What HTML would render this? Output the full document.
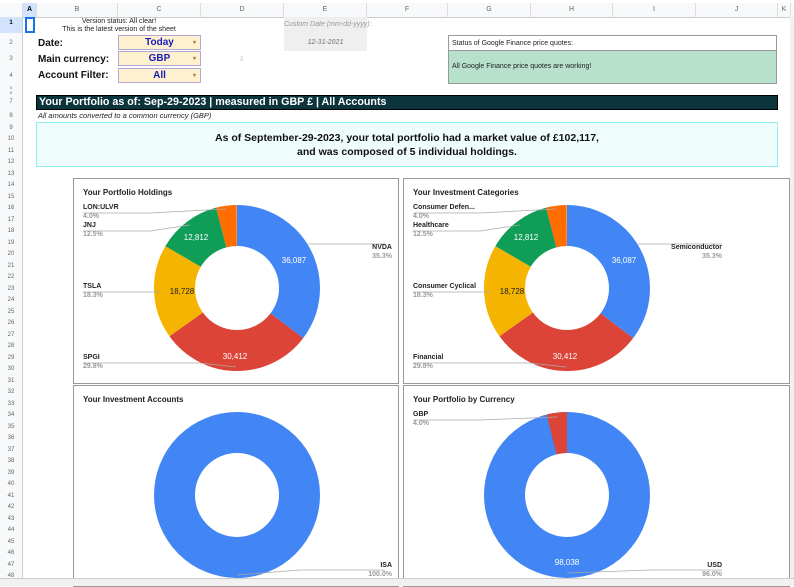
<!DOCTYPE html>
<html><head><meta charset="utf-8"><style>
body{margin:0;width:794px;height:585px;overflow:hidden;background:#fff;font-family:"Liberation Sans",Arial,sans-serif;position:relative}
.a{position:absolute;white-space:nowrap}
.hd{position:absolute;top:3px;height:14px;border-right:1px solid #ddd;font-size:7px;color:#666;text-align:center;line-height:14px;background:#f8f9fa;border-bottom:1px solid #ccc}
.rn{position:absolute;left:0;width:22px;font-size:6px;color:#666;text-align:center}
.dd{position:absolute;left:118px;width:83px;height:15px;background:#fdf1cf;border:1px solid #b4a7d6;box-sizing:border-box;color:#1a1ab8;font-weight:bold;font-size:10px;text-align:center;line-height:14px}
.dd:after{content:"▾";position:absolute;right:4px;font-size:6px;color:#b08040}
.lb{position:absolute;left:38px;font-size:10px;font-weight:bold;color:#111}
.box{position:absolute;border:1px solid #999;background:#fff}
.t{font-size:8px;font-weight:bold;color:#222}
.p{font-size:7px;color:#999}
.v{font-size:8px;fill:#fff;font-family:"Liberation Sans",sans-serif}
</style></head><body>
<div class="a" style="left:0;top:3px;width:794px;height:14px;background:#f8f9fa;border-bottom:1px solid #ccc"></div>
<div class="hd" style="left:0;width:22px"></div>
<div class="hd" style="left:23px;width:13px;background:#d3e3fd;font-weight:bold;color:#000">A</div>
<div class="hd" style="left:37px;width:80px">B</div>
<div class="hd" style="left:118px;width:82px">C</div>
<div class="hd" style="left:201px;width:82px">D</div>
<div class="hd" style="left:284px;width:82px">E</div>
<div class="hd" style="left:367px;width:80px">F</div>
<div class="hd" style="left:448px;width:82px">G</div>
<div class="hd" style="left:531px;width:81px">H</div>
<div class="hd" style="left:613px;width:82px">I</div>
<div class="hd" style="left:696px;width:81px">J</div>
<div class="hd" style="left:778px;width:12px">K</div>
<div class="a" style="left:0;top:17px;width:22px;height:568px;background:#f8f9fa;border-right:1px solid #ccc"></div>
<div class="a" style="left:0;top:17px;width:22px;height:16px;background:#d3e3fd"></div>
<div class="a" style="left:25px;top:17px;width:10px;height:16px;border:2px solid #1a73e8;box-sizing:border-box"></div>
<div class="a" style="left:790px;top:17px;width:4px;height:568px;background:#f1f1f1"></div>
<div class="rn" style="top:20px;font-weight:bold;color:#000">1</div>
<div class="rn" style="top:40px">2</div><div class="rn" style="top:56px">3</div><div class="rn" style="top:73px">4</div>
<div class="rn" style="top:85px;font-size:4px">5</div><div class="rn" style="top:90px;font-size:4px">6</div>
<div class="rn" style="top:99px">7</div><div class="rn" style="top:113px">8</div>
<div class="rn" style="top:125px">9</div><div class="rn" style="top:136px">10</div><div class="rn" style="top:148px">11</div><div class="rn" style="top:159px">12</div><div class="rn" style="top:171px">13</div><div class="rn" style="top:182px">14</div><div class="rn" style="top:194px">15</div><div class="rn" style="top:205px">16</div><div class="rn" style="top:217px">17</div><div class="rn" style="top:228px">18</div><div class="rn" style="top:240px">19</div><div class="rn" style="top:251px">20</div><div class="rn" style="top:263px">21</div><div class="rn" style="top:274px">22</div><div class="rn" style="top:286px">23</div><div class="rn" style="top:297px">24</div><div class="rn" style="top:309px">25</div><div class="rn" style="top:320px">26</div><div class="rn" style="top:332px">27</div><div class="rn" style="top:343px">28</div><div class="rn" style="top:355px">29</div><div class="rn" style="top:366px">30</div><div class="rn" style="top:378px">31</div><div class="rn" style="top:389px">32</div><div class="rn" style="top:401px">33</div><div class="rn" style="top:412px">34</div><div class="rn" style="top:424px">35</div><div class="rn" style="top:435px">36</div><div class="rn" style="top:447px">37</div><div class="rn" style="top:458px">38</div><div class="rn" style="top:470px">39</div><div class="rn" style="top:481px">40</div><div class="rn" style="top:493px">41</div><div class="rn" style="top:504px">42</div><div class="rn" style="top:516px">43</div><div class="rn" style="top:527px">44</div><div class="rn" style="top:539px">45</div><div class="rn" style="top:550px">46</div><div class="rn" style="top:562px">47</div><div class="rn" style="top:573px">48</div>

<div class="a" style="left:37px;top:18px;width:164px;text-align:center;font-size:7px;color:#222;line-height:8px">Version status: All clear!<br>This is the latest version of the sheet</div>
<div class="a" style="left:284px;top:17px;width:83px;height:34px;background:#efefef"></div>
<div class="a" style="left:284px;top:21px;width:83px;text-align:center;font-size:7px;font-style:italic;color:#999">Custom Date (mm-dd-yyyy):</div>
<div class="a" style="left:284px;top:39px;width:83px;text-align:center;font-size:7px;font-style:italic;font-weight:bold;color:#999">12-31-2021</div>
<div class="lb" style="top:38px">Date:</div><div class="lb" style="top:54px">Main currency:</div><div class="lb" style="top:70px">Account Filter:</div>
<div class="dd" style="top:35px">Today</div><div class="dd" style="top:51px">GBP</div><div class="dd" style="top:68px">All</div>
<div class="a" style="left:240px;top:56px;font-size:7px;color:#ccc">£</div>
<div class="a" style="left:448px;top:35px;width:329px;height:16px;border:1px solid #999;box-sizing:border-box;font-size:7px;line-height:15px;padding-left:3px;color:#222">Status of Google Finance price quotes:</div>
<div class="a" style="left:448px;top:51px;width:329px;height:33px;background:#b7e1cd;border:1px solid #999;border-top:none;box-sizing:border-box;font-size:7px;line-height:32px;padding-left:3px;color:#222">All Google Finance price quotes are working!</div>
<div class="a" style="left:36px;top:95px;width:742px;height:15px;background:#0c343d;border:1px solid #000;box-sizing:border-box;color:#fff;font-weight:bold;font-size:10.7px;line-height:13px;padding-left:2px">Your Portfolio as of: Sep-29-2023 | measured in GBP £ | All Accounts</div>
<div class="a" style="left:38px;top:111px;font-size:7.5px;font-style:italic;color:#222">All amounts converted to a common currency (GBP)</div>
<div class="a" style="left:36px;top:122px;width:742px;height:45px;background:#f0fdfd;border:1px solid #8eeeee;box-sizing:border-box;text-align:center;font-weight:bold;font-size:10.5px;line-height:14px;padding-top:8px;color:#111">As of September-29-2023, your total portfolio had a market value of £102,117,<br>and was composed of 5 individual holdings.</div>

<div class="box" style="left:73px;top:178px;width:324px;height:204px"></div>
<div class="box" style="left:403px;top:178px;width:385px;height:204px"></div>
<div class="box" style="left:73px;top:385px;width:324px;height:200px"></div>
<div class="box" style="left:403px;top:385px;width:385px;height:200px"></div>

<svg class="a" style="left:0;top:0" width="794" height="578" font-family="Liberation Sans,sans-serif">
<g transform="rotate(-90 237 288)" fill="none" stroke-width="41">
<circle cx="237" cy="288" r="62.5" stroke="#4285f4" stroke-dasharray="138.6 300"/>
<circle cx="237" cy="288" r="62.5" stroke="#db4437" stroke-dasharray="117 400" stroke-dashoffset="-138.6"/>
<circle cx="237" cy="288" r="62.5" stroke="#f4b400" stroke-dasharray="71.9 400" stroke-dashoffset="-255.6"/>
<circle cx="237" cy="288" r="62.5" stroke="#0f9d58" stroke-dasharray="49.1 400" stroke-dashoffset="-327.5"/>
<circle cx="237" cy="288" r="62.5" stroke="#ff6d01" stroke-dasharray="15.7 400" stroke-dashoffset="-376.6"/>
</g>
<g transform="rotate(-90 567 288)" fill="none" stroke-width="41">
<circle cx="567" cy="288" r="62.5" stroke="#4285f4" stroke-dasharray="138.6 300"/>
<circle cx="567" cy="288" r="62.5" stroke="#db4437" stroke-dasharray="117 400" stroke-dashoffset="-138.6"/>
<circle cx="567" cy="288" r="62.5" stroke="#f4b400" stroke-dasharray="71.9 400" stroke-dashoffset="-255.6"/>
<circle cx="567" cy="288" r="62.5" stroke="#0f9d58" stroke-dasharray="49.1 400" stroke-dashoffset="-327.5"/>
<circle cx="567" cy="288" r="62.5" stroke="#ff6d01" stroke-dasharray="15.7 400" stroke-dashoffset="-376.6"/>
</g>
<circle cx="237" cy="495" r="62.5" fill="none" stroke="#4285f4" stroke-width="41"/>
<g transform="rotate(-90 567 495)" fill="none" stroke-width="41">
<circle cx="567" cy="495" r="62.5" stroke="#4285f4"/>
<circle cx="567" cy="495" r="62.5" stroke="#db4437" stroke-dasharray="15.7 400" stroke-dashoffset="-377"/>
</g>
<g stroke="#aaa" stroke-width="0.7" fill="none">
<path d="M83 213 L150 213 L226 209"/><path d="M83 231 L150 231 L190 225"/><path d="M83 292 L160 292"/><path d="M83 363 L200 363 L236 367"/><path d="M308 244 L385 244"/>
<path d="M413 213 L480 213 L556 209"/><path d="M413 231 L480 231 L520 225"/><path d="M413 292 L490 292"/><path d="M413 363 L530 363 L566 367"/><path d="M638 244 L722 244"/>
<path d="M237 575 L300 570 L385 570"/>
<path d="M413 420 L480 420 L557 417"/><path d="M567 573 L650 570 L722 570"/>
</g>
<text class="v" x="294" y="263" text-anchor="middle">36,087</text><text class="v" x="235" y="359" text-anchor="middle">30,412</text><text x="182" y="294" text-anchor="middle" font-size="8" fill="#222">18,728</text><text class="v" x="196" y="240" text-anchor="middle">12,812</text>
<text class="v" x="624" y="263" text-anchor="middle">36,087</text><text class="v" x="565" y="359" text-anchor="middle">30,412</text><text x="512" y="294" text-anchor="middle" font-size="8" fill="#222">18,728</text><text class="v" x="526" y="240" text-anchor="middle">12,812</text>
<text class="v" x="567" y="565" text-anchor="middle">98,038</text>
</svg>

<div class="a t" style="left:83px;top:188px">Your Portfolio Holdings</div>
<div class="a t" style="left:413px;top:188px">Your Investment Categories</div>
<div class="a t" style="left:83px;top:395px">Your Investment Accounts</div>
<div class="a t" style="left:413px;top:395px">Your Portfolio by Currency</div>

<div class="a t" style="left:83px;top:203px;font-size:7px;line-height:9px">LON:ULVR<br><span class="p">4.0%</span></div>
<div class="a t" style="left:83px;top:221px;font-size:7px;line-height:9px">JNJ<br><span class="p">12.5%</span></div>
<div class="a t" style="left:83px;top:282px;font-size:7px;line-height:9px">TSLA<br><span class="p">18.3%</span></div>
<div class="a t" style="left:83px;top:353px;font-size:7px;line-height:9px">SPGI<br><span class="p">29.8%</span></div>
<div class="a t" style="left:340px;width:52px;text-align:right;top:243px;font-size:7px;line-height:9px">NVDA<br><span class="p">35.3%</span></div>

<div class="a t" style="left:413px;top:203px;font-size:7px;line-height:9px">Consumer Defen...<br><span class="p">4.0%</span></div>
<div class="a t" style="left:413px;top:221px;font-size:7px;line-height:9px">Healthcare<br><span class="p">12.5%</span></div>
<div class="a t" style="left:413px;top:282px;font-size:7px;line-height:9px">Consumer Cyclical<br><span class="p">18.3%</span></div>
<div class="a t" style="left:413px;top:353px;font-size:7px;line-height:9px">Financial<br><span class="p">29.8%</span></div>
<div class="a t" style="left:640px;width:82px;text-align:right;top:243px;font-size:7px;line-height:9px">Semiconductor<br><span class="p">35.3%</span></div>

<div class="a t" style="left:340px;width:52px;text-align:right;top:561px;font-size:7px;line-height:9px">ISA<br><span class="p">100.0%</span></div>
<div class="a t" style="left:413px;top:410px;font-size:7px;line-height:9px">GBP<br><span class="p">4.0%</span></div>
<div class="a t" style="left:670px;width:52px;text-align:right;top:561px;font-size:7px;line-height:9px">USD<br><span class="p">96.0%</span></div>
<div class="a" style="left:0;top:578px;width:794px;height:7px;background:#f1f1f1;border-top:1px solid #ccc"></div>
</body></html>
